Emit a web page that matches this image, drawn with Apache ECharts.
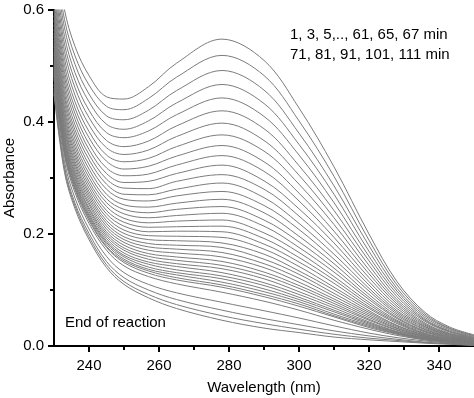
<!DOCTYPE html>
<html>
<head>
<meta charset="utf-8">
<script src="https://cdn.jsdelivr.net/npm/echarts@6/dist/echarts.min.js"></script>
<style>
  html, body { margin: 0; padding: 0; background: #fff; }
  #chart { width: 474px; height: 398px; }
</style>
</head>
<body>
<div id="chart"></div>
<script>
// wavelength grid (nm) where each spectrum was read
const wavelengths = [230, 233, 236, 240, 245, 250, 257, 265, 278, 290, 300, 310, 320, 328, 336, 343, 350]

// reaction time of each spectrum (min)
const reactionTimes = [1, 3, 5, 7, 9, 11, 13, 15, 17, 19, 21, 23, 25, 27, 29, 31, 33, 35, 37, 39,
  41, 43, 45, 47, 49, 51, 53, 55, 57, 59, 61, 63, 65, 67, 71, 81, 91, 101, 111]

// absorbance, one row per reaction time
const absorbance = [
  [0.720, 0.600, 0.535, 0.483, 0.445, 0.441, 0.463, 0.505, 0.548, 0.510, 0.425, 0.320, 0.200, 0.115, 0.060, 0.034, 0.020],
  [0.705, 0.583, 0.518, 0.466, 0.428, 0.422, 0.442, 0.480, 0.519, 0.483, 0.402, 0.303, 0.189, 0.109, 0.057, 0.032, 0.019],
  [0.690, 0.568, 0.503, 0.450, 0.411, 0.404, 0.421, 0.456, 0.492, 0.457, 0.380, 0.286, 0.179, 0.103, 0.054, 0.031, 0.018],
  [0.676, 0.553, 0.488, 0.436, 0.396, 0.387, 0.402, 0.434, 0.467, 0.433, 0.360, 0.271, 0.169, 0.098, 0.051, 0.029, 0.017],
  [0.663, 0.539, 0.474, 0.421, 0.381, 0.372, 0.384, 0.413, 0.443, 0.410, 0.341, 0.256, 0.160, 0.093, 0.048, 0.027, 0.016],
  [0.651, 0.526, 0.461, 0.408, 0.367, 0.356, 0.366, 0.393, 0.420, 0.388, 0.322, 0.242, 0.152, 0.088, 0.046, 0.026, 0.015],
  [0.639, 0.513, 0.448, 0.395, 0.354, 0.342, 0.350, 0.374, 0.398, 0.367, 0.305, 0.229, 0.144, 0.083, 0.044, 0.025, 0.014],
  [0.628, 0.501, 0.436, 0.383, 0.341, 0.329, 0.335, 0.356, 0.377, 0.348, 0.289, 0.217, 0.136, 0.079, 0.041, 0.023, 0.014],
  [0.618, 0.490, 0.425, 0.372, 0.330, 0.316, 0.321, 0.339, 0.358, 0.329, 0.273, 0.205, 0.129, 0.075, 0.039, 0.022, 0.013],
  [0.608, 0.480, 0.415, 0.361, 0.318, 0.304, 0.307, 0.323, 0.340, 0.312, 0.259, 0.194, 0.122, 0.071, 0.037, 0.021, 0.012],
  [0.599, 0.470, 0.405, 0.351, 0.308, 0.292, 0.294, 0.308, 0.323, 0.295, 0.245, 0.184, 0.115, 0.067, 0.035, 0.020, 0.012],
  [0.590, 0.460, 0.395, 0.342, 0.298, 0.282, 0.281, 0.294, 0.306, 0.280, 0.232, 0.174, 0.109, 0.063, 0.034, 0.019, 0.011],
  [0.582, 0.451, 0.386, 0.333, 0.289, 0.271, 0.270, 0.280, 0.291, 0.265, 0.219, 0.164, 0.103, 0.060, 0.032, 0.018, 0.010],
  [0.574, 0.443, 0.378, 0.324, 0.280, 0.262, 0.259, 0.268, 0.276, 0.251, 0.208, 0.155, 0.098, 0.057, 0.030, 0.017, 0.010],
  [0.566, 0.435, 0.370, 0.316, 0.271, 0.252, 0.248, 0.255, 0.262, 0.238, 0.196, 0.147, 0.092, 0.054, 0.029, 0.016, 0.009],
  [0.559, 0.427, 0.362, 0.308, 0.263, 0.244, 0.238, 0.244, 0.249, 0.225, 0.186, 0.139, 0.087, 0.051, 0.027, 0.016, 0.009],
  [0.553, 0.420, 0.355, 0.301, 0.256, 0.236, 0.229, 0.233, 0.237, 0.214, 0.176, 0.132, 0.083, 0.049, 0.026, 0.015, 0.008],
  [0.546, 0.413, 0.348, 0.294, 0.249, 0.228, 0.220, 0.223, 0.225, 0.202, 0.167, 0.124, 0.078, 0.046, 0.025, 0.014, 0.008],
  [0.540, 0.407, 0.342, 0.288, 0.242, 0.221, 0.212, 0.213, 0.214, 0.192, 0.158, 0.118, 0.074, 0.044, 0.023, 0.013, 0.007],
  [0.535, 0.401, 0.336, 0.282, 0.236, 0.214, 0.204, 0.205, 0.204, 0.182, 0.150, 0.112, 0.070, 0.042, 0.022, 0.013, 0.007],
  [0.529, 0.395, 0.330, 0.276, 0.230, 0.207, 0.197, 0.196, 0.194, 0.173, 0.142, 0.105, 0.067, 0.040, 0.021, 0.012, 0.007],
  [0.524, 0.390, 0.325, 0.271, 0.224, 0.201, 0.190, 0.188, 0.184, 0.164, 0.134, 0.100, 0.063, 0.037, 0.020, 0.012, 0.006],
  [0.520, 0.385, 0.320, 0.266, 0.219, 0.195, 0.183, 0.180, 0.176, 0.155, 0.128, 0.094, 0.060, 0.036, 0.019, 0.011, 0.006],
  [0.515, 0.380, 0.315, 0.261, 0.214, 0.190, 0.177, 0.173, 0.167, 0.147, 0.121, 0.089, 0.057, 0.034, 0.018, 0.010, 0.006],
  [0.511, 0.375, 0.310, 0.256, 0.209, 0.185, 0.171, 0.166, 0.159, 0.140, 0.114, 0.084, 0.054, 0.032, 0.017, 0.010, 0.005],
  [0.507, 0.371, 0.306, 0.252, 0.204, 0.180, 0.165, 0.159, 0.151, 0.132, 0.108, 0.080, 0.051, 0.031, 0.017, 0.010, 0.005],
  [0.503, 0.367, 0.302, 0.247, 0.200, 0.175, 0.160, 0.153, 0.144, 0.126, 0.103, 0.076, 0.048, 0.029, 0.016, 0.009, 0.005],
  [0.499, 0.363, 0.298, 0.244, 0.196, 0.171, 0.155, 0.147, 0.138, 0.120, 0.097, 0.072, 0.046, 0.028, 0.015, 0.009, 0.005],
  [0.496, 0.359, 0.294, 0.240, 0.192, 0.166, 0.150, 0.142, 0.131, 0.113, 0.092, 0.068, 0.043, 0.026, 0.014, 0.008, 0.004],
  [0.493, 0.356, 0.291, 0.236, 0.188, 0.162, 0.146, 0.136, 0.125, 0.108, 0.087, 0.064, 0.041, 0.025, 0.014, 0.008, 0.004],
  [0.490, 0.353, 0.288, 0.233, 0.185, 0.159, 0.141, 0.131, 0.120, 0.102, 0.083, 0.061, 0.039, 0.024, 0.013, 0.008, 0.004],
  [0.487, 0.349, 0.284, 0.230, 0.182, 0.155, 0.137, 0.127, 0.114, 0.097, 0.079, 0.057, 0.037, 0.023, 0.013, 0.007, 0.004],
  [0.484, 0.347, 0.282, 0.227, 0.178, 0.152, 0.134, 0.122, 0.109, 0.092, 0.075, 0.054, 0.035, 0.022, 0.012, 0.007, 0.003],
  [0.482, 0.344, 0.279, 0.224, 0.176, 0.149, 0.130, 0.118, 0.105, 0.088, 0.071, 0.052, 0.033, 0.021, 0.011, 0.007, 0.003],
  [0.477, 0.339, 0.274, 0.219, 0.171, 0.143, 0.124, 0.111, 0.096, 0.080, 0.064, 0.046, 0.030, 0.019, 0.011, 0.006, 0.003],
  [0.467, 0.329, 0.264, 0.209, 0.160, 0.131, 0.110, 0.095, 0.078, 0.063, 0.050, 0.036, 0.023, 0.015, 0.009, 0.005, 0.002],
  [0.460, 0.320, 0.255, 0.201, 0.151, 0.122, 0.100, 0.083, 0.064, 0.049, 0.038, 0.027, 0.018, 0.012, 0.007, 0.004, 0.002],
  [0.454, 0.315, 0.250, 0.195, 0.145, 0.115, 0.092, 0.074, 0.054, 0.040, 0.030, 0.021, 0.014, 0.010, 0.006, 0.004, 0.001],
  [0.450, 0.310, 0.245, 0.190, 0.140, 0.110, 0.086, 0.067, 0.046, 0.032, 0.024, 0.016, 0.011, 0.008, 0.005, 0.003, 0.001]
]

// axis ticks
const xMajorTicks = [240, 260, 280, 300, 320, 340]
const xMinorTicks = [250, 270, 290, 310, 330]

const font = 'Liberation Sans, Arial, sans-serif'
const axisColor = '#000'

const chart = echarts.init(document.getElementById('chart'), null, { renderer: 'canvas' })

const series = absorbance.map((row, i) => ({
  name: reactionTimes[i] + ' min',
  type: 'line',
  xAxisIndex: 0,
  data: row.map((a, j) => [wavelengths[j], a]),
  showSymbol: false,
  smooth: 0.35,
  clip: true,
  silent: true,
  lineStyle: { color: '#7c7c7c', width: 1 }
}))

const option = {
  animation: false,
  backgroundColor: '#fff',
  grid: { left: 54, right: 0, top: 10, bottom: 52, containLabel: false, outerBoundsMode: 'none' },
  xAxis: [
    {
      type: 'value',
      min: 230,
      max: 350,
      name: 'Wavelength (nm)',
      nameLocation: 'middle',
      nameGap: 34,
      nameMoveOverlap: false,
      nameTextStyle: { fontFamily: font, fontSize: 15, color: axisColor },
      axisLine: { lineStyle: { color: axisColor, width: 2 } },
      axisTick: { customValues: xMajorTicks, length: 6, lineStyle: { color: axisColor, width: 2 } },
      axisLabel: { customValues: xMajorTicks, margin: 12, fontFamily: font, fontSize: 15, color: axisColor },
      splitLine: { show: false }
    },
    {
      // minor ticks only
      type: 'value',
      min: 230,
      max: 350,
      position: 'bottom',
      axisLine: { show: false },
      axisTick: { customValues: xMinorTicks, length: 4, lineStyle: { color: axisColor, width: 2 } },
      axisLabel: { show: false },
      splitLine: { show: false }
    }
  ],
  yAxis: {
    type: 'value',
    min: 0,
    max: 0.6,
    interval: 0.2,
    name: 'Absorbance',
    nameLocation: 'middle',
    nameGap: 37,
    nameMoveOverlap: false,
    nameTextStyle: { fontFamily: font, fontSize: 15, color: axisColor },
    axisLine: { show: true, lineStyle: { color: axisColor, width: 2 } },
    axisTick: { show: true, length: 6, lineStyle: { color: axisColor, width: 2 } },
    minorTick: { show: true, splitNumber: 2, length: 4, lineStyle: { color: axisColor, width: 2 } },
    axisLabel: {
      margin: 10,
      fontFamily: font,
      fontSize: 15,
      color: axisColor,
      formatter: (v) => v.toFixed(1)
    },
    splitLine: { show: false }
  },
  graphic: [
    {
      type: 'text',
      left: 290,
      top: 27,
      style: { text: '1, 3, 5,.., 61, 65, 67 min', font: '15px ' + font, fill: '#000' }
    },
    {
      type: 'text',
      left: 290,
      top: 47,
      style: { text: '71, 81, 91, 101, 111 min', font: '15px ' + font, fill: '#000' }
    },
    {
      type: 'text',
      left: 65,
      top: 315,
      style: { text: 'End of reaction', font: '15px ' + font, fill: '#000' }
    }
  ],
  series: series
}

chart.setOption(option)
</script>
</body>
</html>
